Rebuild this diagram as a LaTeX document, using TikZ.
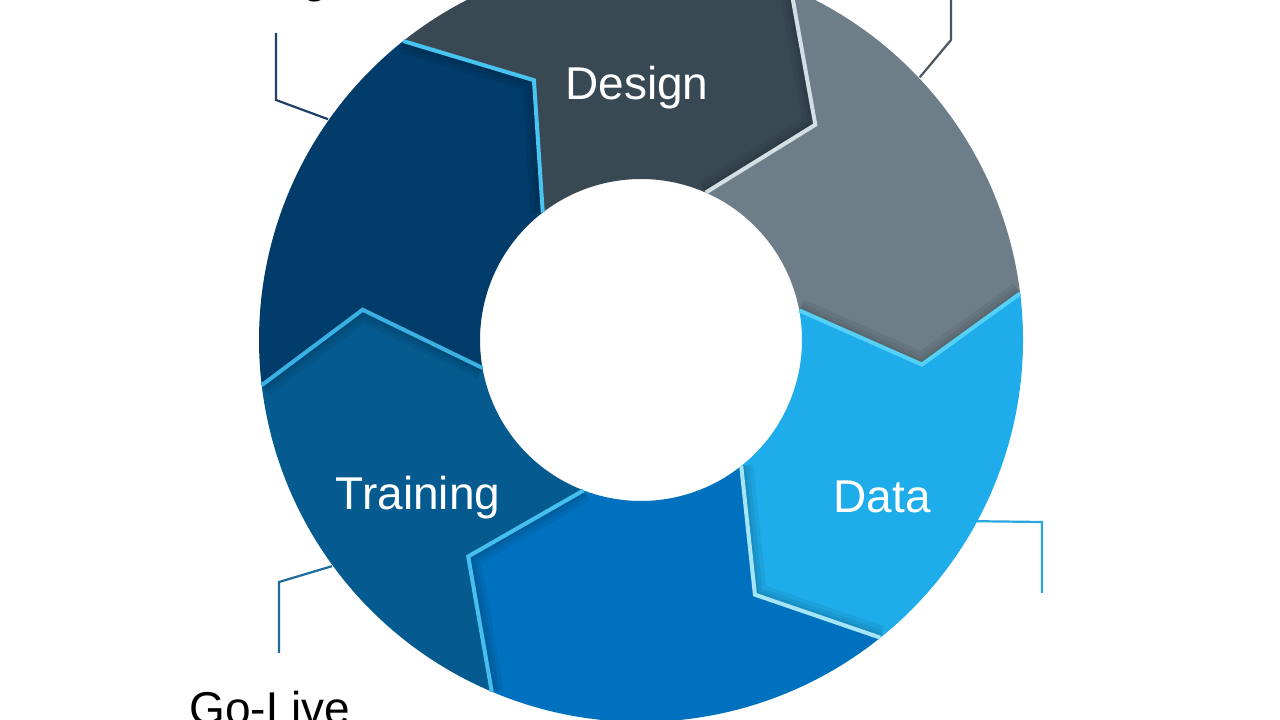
\documentclass[tikz,border=0pt]{standalone}
\usepackage{fontspec}
\setmainfont{Liberation Sans}
\usetikzlibrary{calc}
\definecolor{navyseg}{HTML}{023C6A}
\definecolor{designseg}{HTML}{394954}
\definecolor{grayseg}{HTML}{6D7E88}
\definecolor{dataseg}{HTML}{1EADEA}
\definecolor{blueseg}{HTML}{0071BE}
\definecolor{trainseg}{HTML}{055A8F}
\definecolor{hlA}{HTML}{48C4F0}
\definecolor{hlB}{HTML}{D3DFE4}
\definecolor{hlC}{HTML}{55D0F6}
\definecolor{hlD}{HTML}{A6E5F8}
\definecolor{hlE}{HTML}{47BFEE}
\definecolor{hlF}{HTML}{3BB0E3}
\definecolor{conNavy}{HTML}{1F4068}
\definecolor{conGray}{HTML}{4B5661}
\definecolor{conData}{HTML}{2AA6DE}
\definecolor{conTrain}{HTML}{1C6C9E}
\newcommand{\Ro}{382pt}
\newcommand{\Ri}{161pt}
\newcommand{\pNavy}{(b1o) arc[start angle=128.5,end angle=186.8,radius=\Ro] -- (b6t) -- (b6i) arc[start angle=190,end angle=127.6,radius=\Ri] -- (b1t) -- cycle}
\newcommand{\pDesign}{(b2o) arc[start angle=66.9,end angle=128.5,radius=\Ro] -- (b1t) -- (b1i) arc[start angle=127.6,end angle=66.3,radius=\Ri] -- (b2t) -- cycle}
\newcommand{\pGray}{(b3o) arc[start angle=7,end angle=66.9,radius=\Ro] -- (b2t) -- (b2i) arc[start angle=66.3,end angle=10.6,radius=\Ri] -- (b3t) -- cycle}
\newcommand{\pData}{(b4o) arc[start angle=-51.2,end angle=7,radius=\Ro] -- (b3t) -- (b3i) arc[start angle=10.6,end angle=-51.5,radius=\Ri] -- (b4t) -- cycle}
\newcommand{\pBlue}{(b5o) arc[start angle=-113,end angle=-51.2,radius=\Ro] -- (b4t) -- (b4i) arc[start angle=-51.5,end angle=-110.9,radius=\Ri] -- (b5t) -- cycle}
\newcommand{\pTrain}{(b6o) arc[start angle=186.8,end angle=247,radius=\Ro] -- (b5t) -- (b5i) arc[start angle=249.1,end angle=190,radius=\Ri] -- (b6t) -- cycle}
\begin{document}
\begin{tikzpicture}[x=1pt,y=1pt,
  hl/.style={line width=4pt,line join=miter},
  shad/.style={draw=black,line join=miter},
  con/.style={line width=2.2pt,line join=miter},
  lab/.style={text=white,font=\fontsize{46}{50}\selectfont,anchor=base,inner sep=0pt},
  outlab/.style={text=black,font=\fontsize{46}{50}\selectfont,anchor=base,inner sep=0pt}]
\useasboundingbox (0,0) rectangle (1280,720);
\fill[white] (0,0) rectangle (1280,720);
\coordinate (C) at (641,380);
% boundaries
\coordinate (b1i) at ($(C)+(127.6:\Ri)$);
\coordinate (b1t) at ($(C)+(112.4:281pt)$);
\coordinate (b1o) at ($(C)+(128.5:\Ro)$);
\coordinate (b2i) at ($(C)+(66.3:\Ri)$);
\coordinate (b2t) at ($(C)+(51:277pt)$);
\coordinate (b2o) at ($(C)+(66.9:\Ro)$);
\coordinate (b3i) at ($(C)+(10.6:\Ri)$);
\coordinate (b3t) at ($(C)+(-5:282pt)$);
\coordinate (b3o) at ($(C)+(7:\Ro)$);
\coordinate (b4i) at ($(C)+(-51.5:\Ri)$);
\coordinate (b4t) at ($(C)+(-65.9:279pt)$);
\coordinate (b4o) at ($(C)+(-51.2:\Ro)$);
\coordinate (b5i) at ($(C)+(-110.9:\Ri)$);
\coordinate (b5t) at ($(C)+(-128.6:277pt)$);
\coordinate (b5o) at ($(C)+(-113:\Ro)$);
\coordinate (b6i) at ($(C)+(190:\Ri)$);
\coordinate (b6t) at ($(C)+(173.8:280pt)$);
\coordinate (b6o) at ($(C)+(186.8:\Ro)$);
% segments
\fill[navyseg] \pNavy;
\fill[designseg] \pDesign;
\fill[grayseg] \pGray;
\fill[dataseg] \pData;
\fill[blueseg] \pBlue;
\fill[trainseg] \pTrain;
% soft shadows along the arrow tips
\begin{scope}\clip \pNavy;
 \foreach \w in {24,16,9} \draw[shad,opacity=.06,line width=\w pt] (b1o) -- (b1t) -- (b1i);
\end{scope}
\begin{scope}\clip \pDesign;
 \foreach \w in {24,16,9} \draw[shad,opacity=.06,line width=\w pt] (b2o) -- (b2t) -- (b2i);
\end{scope}
\begin{scope}\clip \pGray;
 \foreach \w in {24,16,9} \draw[shad,opacity=.06,line width=\w pt] (b3o) -- (b3t) -- (b3i);
\end{scope}
\begin{scope}\clip \pData;
 \foreach \w in {24,16,9} \draw[shad,opacity=.06,line width=\w pt] (b4o) -- (b4t) -- (b4i);
\end{scope}
\begin{scope}\clip \pBlue;
 \foreach \w in {24,16,9} \draw[shad,opacity=.06,line width=\w pt] (b5o) -- (b5t) -- (b5i);
\end{scope}
\begin{scope}\clip \pTrain;
 \foreach \w in {24,16,9} \draw[shad,opacity=.06,line width=\w pt] (b6o) -- (b6t) -- (b6i);
\end{scope}
% highlight edges
\draw[hl,draw=hlA] (b1o) -- (b1t) -- (b1i);
\draw[hl,draw=hlB] (b2o) -- (b2t) -- (b2i);
\draw[hl,draw=hlC] (b3o) -- (b3t) -- (b3i);
\draw[hl,draw=hlD] (b4o) -- (b4t) -- (b4i);
\draw[hl,draw=hlE] (b5o) -- (b5t) -- (b5i);
\draw[hl,draw=hlF] (b6o) -- (b6t) -- (b6i);
% connectors
\coordinate (k1a) at ($(C)+(144.8:383pt)$);
\coordinate (k1b) at (276,620);
\coordinate (k1c) at (276,687);
\draw[con,conNavy] (k1a) -- (k1b) -- (k1c);
\coordinate (k2a) at ($(C)+(43.3:383pt)$);
\coordinate (k2b) at (951,680);
\coordinate (k2c) at (951,724);
\draw[con,conGray] (k2a) -- (k2b) -- (k2c);
\coordinate (k3a) at ($(C)+(-28.4:381pt)$);
\coordinate (k3b) at (1042,198);
\coordinate (k3c) at (1042,127);
\draw[con,conData] (k3a) -- (k3b) -- (k3c);
\coordinate (k4a) at ($(C)+(216.2:383pt)$);
\coordinate (k4b) at (279,138);
\coordinate (k4c) at (279,67);
\draw[con,conTrain] (k4a) -- (k4b) -- (k4c);
% labels
\node[lab] (design) at (637,620) {Design};
\node[lab] (data) at (882,207) {Data};
\node[lab] (training) at (418,210) {Training};
\node[outlab] (golive) at (270,-5) {Go-Live};
\node[outlab] (topg) at (315,727) {g};
\end{tikzpicture}
\end{document}
